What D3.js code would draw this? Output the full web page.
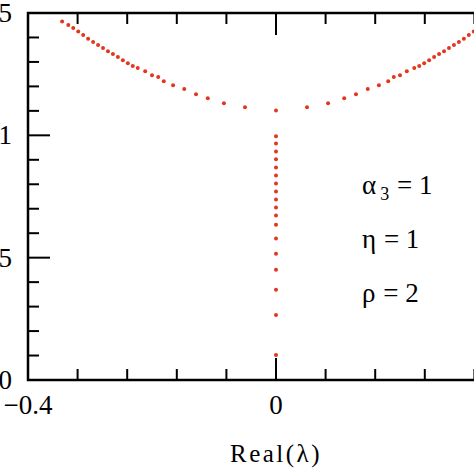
<!DOCTYPE html><html><head><meta charset="utf-8"><script src="https://cdn.jsdelivr.net/npm/d3@7"></script>
<style>body{margin:0;background:#fff}svg{display:block}</style></head><body><svg width="474" height="474"></svg><script>
const vertX=[0,0,0,0,0,0,0,0,0,0,0,0,0,0,0,0,0,0,0];
const vertY=[1.102,0.996,0.967,0.934,0.902,0.869,0.836,0.803,0.770,0.738,0.705,0.672,0.635,0.578,0.516,0.451,0.369,0.266,0.102];
const leftX=[-0.050,-0.084,-0.110,-0.129,-0.148,-0.166,-0.181,-0.190,-0.200,-0.211,-0.223,-0.231,-0.239,-0.247,-0.255,-0.263,-0.271,-0.279,-0.287,-0.295,-0.303,-0.311,-0.319,-0.327,-0.335,-0.345];
const branchY=[1.115,1.131,1.152,1.168,1.189,1.205,1.221,1.238,1.246,1.262,1.275,1.283,1.295,1.307,1.320,1.332,1.344,1.357,1.369,1.381,1.395,1.410,1.424,1.439,1.451,1.465];
const rightX=[0.050,0.084,0.110,0.129,0.148,0.166,0.181,0.190,0.200,0.211,0.223,0.231,0.239,0.247,0.255,0.263,0.271,0.279,0.287,0.295,0.303,0.311,0.319,0.327,0.335,0.345];
const xTicks=[-0.4,0,0.4];const xTickLabels=["\u22120.4","0","0.4"];
const yTicks=[0,0.5,1,1.5];const yTickLabels=["0",".5","1","1.5"];
const notes=[["\u03b1","3"," = 1"],["\u03b7",""," = 1"],["\u03c1",""," = 2"]];

const svg=d3.select("svg");
const L=28,R=524,T=13,B=380;
const x=d3.scaleLinear().domain([-0.4,0.4]).range([L,R]);
const y=d3.scaleLinear().domain([0,1.5]).range([B,T]);
const font="'Liberation Serif','Times New Roman',serif";
svg.append("rect").attr("x",L).attr("y",T).attr("width",R-L).attr("height",B-T).attr("fill","none").attr("stroke","#000").attr("stroke-width",2.5);
const g=svg.append("g").attr("stroke","#000").attr("stroke-width",2);
d3.range(-0.4,0.4001,0.08).forEach(v=>{const maj=xTicks.some(t=>Math.abs(t-v)<1e-6);const l=maj?22:11;
 g.append("line").attr("x1",x(v)).attr("x2",x(v)).attr("y1",B).attr("y2",B-l);
 g.append("line").attr("x1",x(v)).attr("x2",x(v)).attr("y1",T).attr("y2",T+l);});
d3.range(0,1.5001,0.1).forEach(v=>{const maj=yTicks.some(t=>Math.abs(t-v)<1e-6);const l=maj?22:11;
 g.append("line").attr("x1",L).attr("x2",L+l).attr("y1",y(v)).attr("y2",y(v));});
xTicks.forEach((t,i)=>svg.append("text").attr("x",x(t)).attr("y",B+34).attr("text-anchor","middle").attr("font-family",font).attr("font-size",27).text(xTickLabels[i]));
yTicks.forEach((t,i)=>svg.append("text").attr("x",12).attr("y",y(t)+9).attr("text-anchor","end").attr("font-family",font).attr("font-size",27).text(yTickLabels[i]));
svg.append("text").attr("x",x(0)).attr("y",462).attr("text-anchor","middle").attr("font-family",font).attr("font-size",25).attr("letter-spacing",2.5).text("Real(\u03bb)");
const pts=[...vertX.map((v,i)=>[v,vertY[i]]),...leftX.map((v,i)=>[v,branchY[i]]),...rightX.map((v,i)=>[v,branchY[i]])];
svg.append("g").selectAll("circle").data(pts).join("circle").attr("cx",d=>x(d[0])).attr("cy",d=>y(d[1])).attr("r",2).attr("fill","#e2361f");
notes.forEach((n,i)=>{const t=svg.append("text").attr("x",362).attr("y",194+i*54).attr("font-family",font).attr("font-size",27).attr("xml:space","preserve");
 t.append("tspan").text(n[0]);
 if(n[1]) t.append("tspan").attr("dy",6).attr("font-size",18).attr("dx",4).text(n[1]);
 t.append("tspan").attr("dy",n[1]?-6:0).attr("dx",1).text(n[2]);});
</script></body></html>
